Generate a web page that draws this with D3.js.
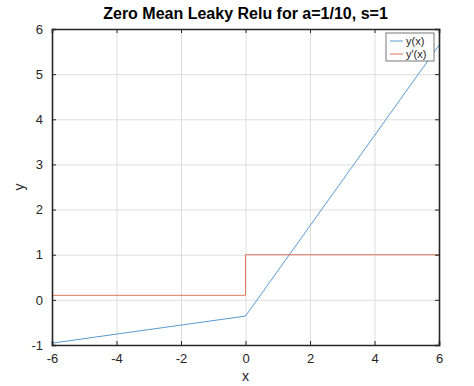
<!DOCTYPE html>
<html>
<head>
<meta charset="utf-8">
<script src="https://cdn.jsdelivr.net/npm/d3@7"></script>
<style>
  body { margin: 0; background: #fff; }
  svg { font-family: "Liberation Sans", Arial, sans-serif; }
  .grid line { stroke: #dedede; stroke-width: 1; }
  .grid path { display: none; }
  .axis text { font-size: 13px; fill: #262626; }
  .axis path, .axis line { stroke: #262626; }
</style>
</head>
<body>
<div id="chart"></div>
<script>
// y(x) = leaky relu minus its mean, a = 0.1, s = 1
const yX = [-6, 0, 6];
const yVals = [-0.959, -0.359, 5.641];
// derivative
const dX = [-6, 0, 0, 6];
const dVals = [0.1, 0.1, 1, 1];

const xTicks = [-6, -4, -2, 0, 2, 4, 6];
const yTicks = [-1, 0, 1, 2, 3, 4, 5, 6];
const seriesNames = ['y(x)', "y'(x)"];
const colors = ['#5a9bd2', '#e0785e'];

const width = 474;
const height = 386;
const margin = { top: 29, right: 35, bottom: 41, left: 52 };
const usableArea = {
  left: margin.left,
  right: width - margin.right,
  top: margin.top,
  bottom: height - margin.bottom,
};

const svg = d3.select('#chart')
  .append('svg')
  .attr('width', width)
  .attr('height', height);

const xScale = d3.scaleLinear().domain([-6, 6]).range([usableArea.left, usableArea.right]);
const yScale = d3.scaleLinear().domain([-1, 6]).range([usableArea.bottom, usableArea.top]);
const fmt = (d) => String(d);

// grid
svg.append('g')
  .attr('class', 'grid')
  .attr('transform', `translate(0, ${usableArea.bottom})`)
  .call(d3.axisBottom(xScale).tickValues(xTicks).tickFormat('')
    .tickSize(-(usableArea.bottom - usableArea.top)));
svg.append('g')
  .attr('class', 'grid')
  .attr('transform', `translate(${usableArea.left}, 0)`)
  .call(d3.axisLeft(yScale).tickValues(yTicks).tickFormat('')
    .tickSize(-(usableArea.right - usableArea.left)));

// lines
const line = d3.line().x((d) => xScale(d[0])).y((d) => yScale(d[1]));
const series = [d3.zip(yX, yVals), d3.zip(dX, dVals)];
svg.append('g')
  .selectAll('path')
  .data(series)
  .join('path')
  .attr('d', line)
  .attr('fill', 'none')
  .attr('stroke', (d, i) => colors[i])
  .attr('stroke-width', 1);

// axes, ticks inward
svg.append('g')
  .attr('class', 'axis')
  .attr('transform', `translate(0, ${usableArea.bottom})`)
  .call(d3.axisBottom(xScale).tickValues(xTicks).tickFormat(fmt).tickSize(-4).tickPadding(9));
svg.append('g')
  .attr('class', 'axis')
  .attr('transform', `translate(${usableArea.left}, 0)`)
  .call(d3.axisLeft(yScale).tickValues(yTicks).tickFormat(fmt).tickSize(-4).tickPadding(9));
svg.append('g')
  .attr('class', 'axis')
  .attr('transform', `translate(0, ${usableArea.top})`)
  .call(d3.axisTop(xScale).tickValues(xTicks).tickSize(-4).tickFormat(''));
svg.append('g')
  .attr('class', 'axis')
  .attr('transform', `translate(${usableArea.right}, 0)`)
  .call(d3.axisRight(yScale).tickValues(yTicks).tickSize(-4).tickFormat(''));
svg.selectAll('.axis path').attr('stroke-width', 1.6);

// title and labels
svg.append('text')
  .attr('x', (usableArea.left + usableArea.right) / 2)
  .attr('y', 19)
  .attr('text-anchor', 'middle')
  .style('font-size', '16px')
  .style('font-weight', 'bold')
  .text('Zero Mean Leaky Relu for a=1/10, s=1');
svg.append('text')
  .attr('x', (usableArea.left + usableArea.right) / 2)
  .attr('y', 381)
  .attr('text-anchor', 'middle')
  .style('font-size', '14px')
  .attr('fill', '#262626')
  .text('x');
svg.append('text')
  .attr('transform', `translate(24, ${(usableArea.top + usableArea.bottom) / 2}) rotate(-90)`)
  .attr('text-anchor', 'middle')
  .style('font-size', '14px')
  .attr('fill', '#262626')
  .text('y');

// legend
const legend = svg.append('g').attr('transform', 'translate(386, 33)');
legend.append('rect')
  .attr('width', 48).attr('height', 28)
  .attr('fill', '#fff').attr('stroke', '#555').attr('stroke-width', 0.8);
seriesNames.forEach((name, i) => {
  const gy = 8 + i * 13;
  legend.append('line')
    .attr('x1', 4).attr('x2', 17).attr('y1', gy).attr('y2', gy)
    .style('stroke', colors[i]).style('stroke-width', 1);
  legend.append('text')
    .attr('x', 20).attr('y', gy + 4)
    .style('font-size', '11px').attr('fill', '#262626')
    .text(name);
});
</script>
</body>
</html>
